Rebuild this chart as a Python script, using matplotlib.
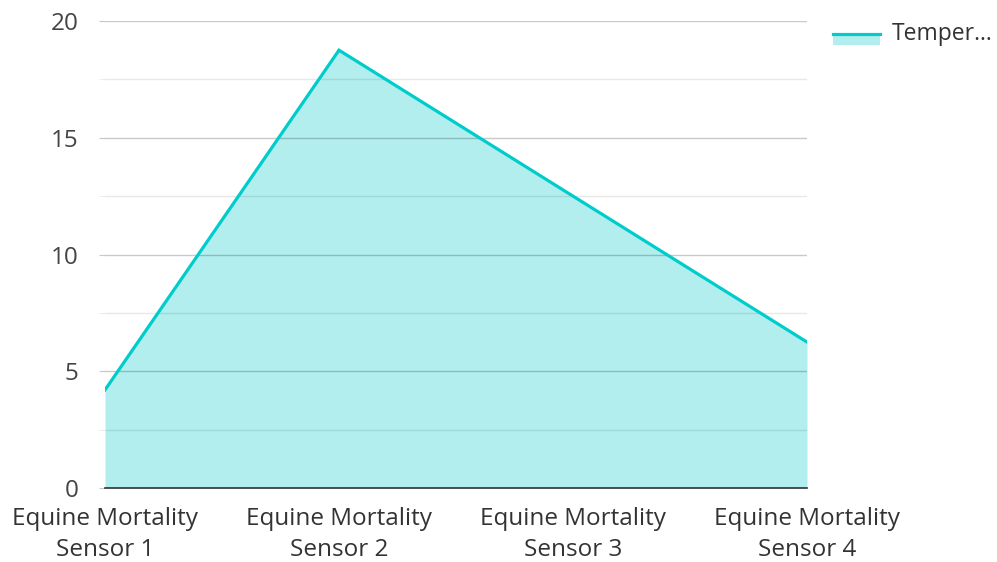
import matplotlib.pyplot as plt
from matplotlib.lines import Line2D
from matplotlib.patches import Rectangle

plt.rcParams['font.family'] = ['Open Sans', 'DejaVu Sans']

categories = ["Equine Mortality\nSensor 1", "Equine Mortality\nSensor 2",
              "Equine Mortality\nSensor 3", "Equine Mortality\nSensor 4"]
temperature = [4.2, 18.75, 12.5, 6.25]
y_ticks = [0, 5, 10, 15, 20]
y_minor = [2.5, 7.5, 12.5, 17.5]
series_name = "Temper..."

line_color = '#00cccc'
fill_color = '#b2eeee'
fs = 17.5

fig = plt.figure(figsize=(9.97, 5.62), dpi=100)
ax = fig.add_axes([105 / 997, 1 - 488 / 562, 702 / 997, 467 / 562])

x = list(range(len(categories)))
ax.fill_between(x, temperature, 0, color=fill_color, linewidth=0, zorder=0.5)
ax.plot(x, temperature, color=line_color, linewidth=2.3, zorder=2,
        solid_joinstyle='miter')

ax.set_xlim(0, len(categories) - 1)
ax.set_ylim(0, 20)
ax.set_xticks(x)
ax.set_xticklabels(categories, fontsize=fs, color='#333333', linespacing=1.35)
ax.set_yticks(y_ticks)
ax.set_yticks(y_minor, minor=True)
ax.set_yticklabels([str(v) for v in y_ticks], fontsize=fs, color='#444444')

ax.grid(axis='y', which='major', color='black', alpha=0.21, linewidth=1)
ax.grid(axis='y', which='minor', color='black', alpha=0.09, linewidth=1)
ax.tick_params(axis='y', which='major', length=4, color='#c8c8c8', pad=15)
ax.tick_params(axis='y', which='minor', length=4, color='#e8e8e8')
ax.tick_params(axis='x', length=0, pad=14)

for s in ['left', 'right', 'top']:
    ax.spines[s].set_visible(False)
ax.spines['bottom'].set_color('#333333')
ax.spines['bottom'].set_linewidth(1.2)

# legend swatch
W, H = 997, 562
fig.patches.append(Rectangle((833 / W, 1 - 45 / H), 47 / W, 12 / H,
                             transform=fig.transFigure, color=fill_color, lw=0))
fig.lines.append(Line2D([833 / W, 880 / W], [1 - 34 / H, 1 - 34 / H],
                        transform=fig.transFigure, color=line_color, lw=2.3))
fig.text(892 / W, 1 - 34 / H, series_name, fontsize=16.5, color='#333333',
         va='center', ha='left')

fig.savefig('out.png', dpi=100)
